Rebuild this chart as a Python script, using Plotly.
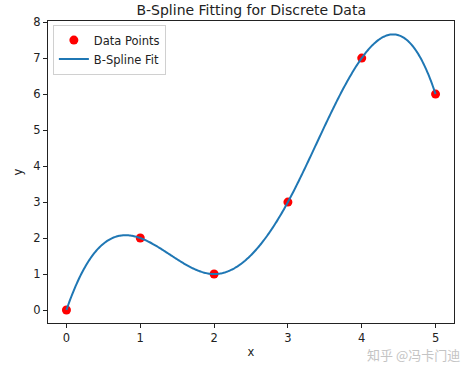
import numpy as np
import plotly.graph_objects as go

x_data = [0, 1, 2, 3, 4, 5]
y_data = [0, 2, 1, 3, 7, 6]
x_ticks = [0, 1, 2, 3, 4, 5]
y_ticks = [0, 1, 2, 3, 4, 5, 6, 7, 8]


def not_a_knot_cubic(xs, ys, xe):
    xs = np.asarray(xs, float)
    ys = np.asarray(ys, float)
    n = len(xs) - 1
    A = np.zeros((4 * n, 4 * n))
    b = np.zeros(4 * n)
    r = 0
    # local coefficients: a + b t + c t^2 + d t^3, t = x - x_i
    for i in range(n):
        h = xs[i + 1] - xs[i]
        A[r, 4 * i] = 1; b[r] = ys[i]; r += 1
        A[r, 4 * i:4 * i + 4] = [1, h, h ** 2, h ** 3]; b[r] = ys[i + 1]; r += 1
    for i in range(n - 1):
        h = xs[i + 1] - xs[i]
        A[r, 4 * i:4 * i + 4] = [0, 1, 2 * h, 3 * h ** 2]
        A[r, 4 * (i + 1) + 1] = -1; r += 1
        A[r, 4 * i:4 * i + 4] = [0, 0, 2, 6 * h]
        A[r, 4 * (i + 1) + 2] = -2; r += 1
    A[r, 3] = 1; A[r, 7] = -1; r += 1
    A[r, 4 * (n - 2) + 3] = 1; A[r, 4 * (n - 1) + 3] = -1; r += 1
    coef = np.linalg.solve(A, b).reshape(n, 4)
    idx = np.clip(np.searchsorted(xs, xe, side="right") - 1, 0, n - 1)
    t = xe - xs[idx]
    c = coef[idx]
    return c[:, 0] + c[:, 1] * t + c[:, 2] * t ** 2 + c[:, 3] * t ** 3


x_fit = np.linspace(min(x_data), max(x_data), 400)
y_fit = not_a_knot_cubic(x_data, y_data, x_fit)

font = "DejaVu Sans, sans-serif"
fs = 11.5

fig = go.Figure()
fig.add_trace(go.Scatter(
    x=x_data, y=y_data, mode="markers", name="Data Points",
    marker=dict(color="red", size=9, line=dict(width=0)),
))
fig.add_trace(go.Scatter(
    x=x_fit, y=y_fit, mode="lines", name="B-Spline Fit",
    line=dict(color="#1f77b4", width=2, simplify=False),
))

axis_common = dict(
    showgrid=False, zeroline=False, showline=True, linecolor="#222",
    linewidth=1, mirror=True, ticks="outside", ticklen=4, tickwidth=1,
    tickcolor="#222", tickfont=dict(family=font, size=fs, color="#222"),
    automargin=False,
)

fig.update_layout(
    width=474, height=368,
    margin=dict(l=48, r=20, t=21, b=45, autoexpand=False),
    paper_bgcolor="white", plot_bgcolor="white",
    title=dict(text="B-Spline Fitting for Discrete Data", x=0.53, xanchor="center",
               y=0.973, yanchor="middle", automargin=False,
               font=dict(family=font, size=14, color="#222")),
    xaxis=dict(range=[-0.25, 5.25], tickvals=x_ticks,
               title=dict(text="x", font=dict(family=font, size=fs, color="#222"), standoff=4),
               **axis_common),
    yaxis=dict(range=[-0.36, 8.03], tickvals=y_ticks,
               title=dict(text="y", font=dict(family=font, size=fs, color="#222"), standoff=8),
               **axis_common),
    legend=dict(x=0.012, y=0.988, xanchor="left", yanchor="top",
                bgcolor="rgba(255,255,255,0.9)", bordercolor="#d0d0d0", borderwidth=1,
                font=dict(family=font, size=fs, color="#222"), tracegroupgap=0,
                itemwidth=30),
    showlegend=True,
)

fig.add_annotation(
    text="知乎 @冯卡门迪", xref="paper", yref="paper", x=1.02, y=-0.105,
    xanchor="right", yanchor="middle", showarrow=False,
    font=dict(family="Noto Sans CJK SC", size=13, color="#c4c4c4"),
)

fig.write_html("out.html", config={"displayModeBar": False})

with open("out.html", "r", encoding="utf-8") as f:
    html = f.read()
html = html.replace("<body>", '<body style="margin:0;padding:0;">', 1)
with open("out.html", "w", encoding="utf-8") as f:
    f.write(html)
